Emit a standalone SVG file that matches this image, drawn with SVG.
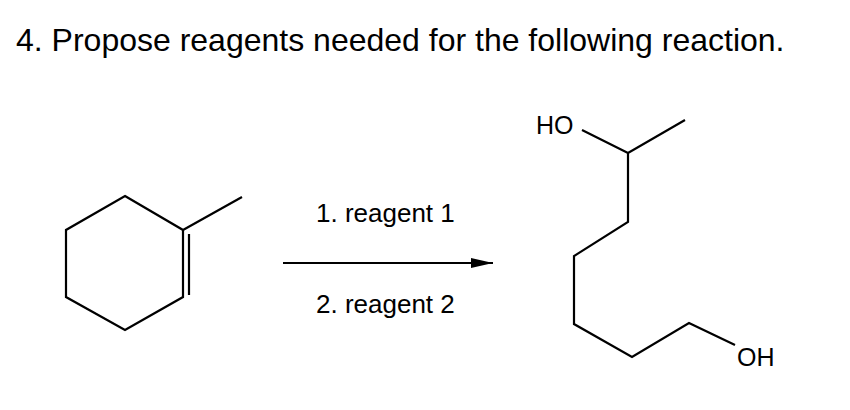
<svg xmlns="http://www.w3.org/2000/svg" width="850" height="410" viewBox="0 0 850 410">
<style>
.b{fill:none;stroke:#000;stroke-width:2.2;stroke-linejoin:miter;stroke-linecap:butt}
.t{font-family:"Liberation Sans",Arial,sans-serif;fill:#000}
</style>
<defs><marker id="ah" markerWidth="22" markerHeight="10" refX="22" refY="5" orient="auto" markerUnits="userSpaceOnUse"><path d="M0,0 L22,5 L0,10 Z" fill="#000"/></marker></defs>
<rect width="850" height="410" fill="#fff"/>
<text class="t" x="16" y="51" font-size="32">4. Propose reagents needed for the following reaction.</text>
<g id="reactant">
<path class="b" d="M125,196 L183,230 L183,297 L125,330 L66,297 L66,230 Z M183,230 L242,197 M189,234 L189,295"/>
</g>
<g id="connectors">
<line x1="283" y1="263" x2="493" y2="263" stroke="#000" stroke-width="1.8" marker-end="url(#ah)"/>
</g>
<text class="t" x="316" y="222" font-size="26">1. reagent 1</text>
<text class="t" x="316" y="313" font-size="26">2. reagent 2</text>
<g id="product">
<path class="b" d="M582,130 L628,153 L685,120 M628,153 L628,222 L574,256 L574,324 L632,357 L689,323 L735,345"/>
<text class="t" x="536" y="134" font-size="25">HO</text>
<text class="t" x="737" y="366" font-size="25">OH</text>
</g>
</svg>
